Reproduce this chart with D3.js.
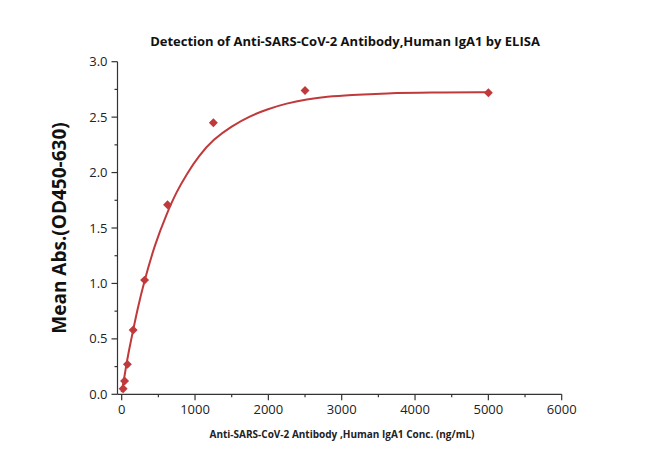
<!DOCTYPE html><html><head><meta charset="utf-8"><script src="https://cdn.jsdelivr.net/npm/d3@7"></script>
<style>body{margin:0;background:#fff}text{font-family:"Open Sans",Calibri,sans-serif}</style></head><body><svg id="c" width="650" height="464"></svg><script>
const concX=[19.53,39.06,78.13,156.25,312.5,625,1250,2500,5000];
const absY=[0.05,0.12,0.27,0.58,1.03,1.71,2.45,2.74,2.72];
const fitX=[0,30,59,100,150,220,300,450,614,750,890,1050,1250,1500,1750,1978,2250,2523,2800,3114,3600,4200,5000];
const fitY=[0.02,0.13,0.25,0.40,0.56,0.78,1.0,1.35,1.63,1.83,1.99,2.15,2.30,2.42,2.51,2.57,2.625,2.66,2.685,2.70,2.715,2.722,2.725];
const xTicks=[0,1000,2000,3000,4000,5000,6000];
const yTicks=[0,0.5,1,1.5,2,2.5,3];
const red="#c0393b";
const svg=d3.select("#c");
const x=d3.scaleLinear().domain([0,6000]).range([121.7,561.7]);
const y=d3.scaleLinear().domain([0,3]).range([394.3,61.7]);
const ax=svg.append("g").attr("transform","translate(0,394.3)");
ax.append("line").attr("x1",117.5).attr("x2",561.7).attr("stroke","#333").attr("stroke-width",1.2);
d3.range(0,6001,500).forEach(v=>ax.append("line").attr("x1",x(v)).attr("x2",x(v)).attr("y2",v%1000?3:6).attr("stroke","#333").attr("stroke-width",1.2));
xTicks.forEach(v=>ax.append("text").attr("x",x(v)).attr("y",20).attr("text-anchor","middle").attr("font-size",13).attr("fill","#222").text(v));
const ay=svg.append("g").attr("transform","translate(117.5,0)");
ay.append("line").attr("y1",y(0)).attr("y2",y(3)).attr("stroke","#333").attr("stroke-width",1.2);
d3.range(0,3.01,0.25).forEach(v=>ay.append("line").attr("y1",y(v)).attr("y2",y(v)).attr("x2",Math.abs(v*2-Math.round(v*2))<1e-6?-6:-3).attr("stroke","#333").attr("stroke-width",1.2));
yTicks.forEach(v=>ay.append("text").attr("x",-10).attr("y",y(v)+4.5).attr("text-anchor","end").attr("font-size",13).attr("fill","#222").text(v.toFixed(1)));
svg.append("path").datum(fitX.map((d,i)=>[d,fitY[i]])).attr("fill","none").attr("stroke",red).attr("stroke-width",2)
 .attr("d",d3.line().x(d=>x(d[0])).y(d=>y(d[1])).curve(d3.curveBasis));
svg.selectAll(".p").data(concX).enter().append("path").attr("transform",(d,i)=>`translate(${x(d)},${y(absY[i])}) rotate(45)`)
 .attr("d",d3.symbol().type(d3.symbolSquare).size(40)).attr("fill",red);
svg.append("text").attr("x",345).attr("y",46).attr("text-anchor","middle").attr("font-size",13).attr("font-weight","bold").attr("fill","#111").text("Detection of Anti-SARS-CoV-2 Antibody,Human IgA1 by ELISA");
svg.append("text").attr("x",342).attr("y",438).attr("text-anchor","middle").attr("font-size",10).attr("font-weight","bold").attr("fill","#222").text("Anti-SARS-CoV-2 Antibody ,Human IgA1 Conc. (ng/mL)");
svg.append("text").attr("transform","translate(66,228) rotate(-90)").attr("text-anchor","middle").attr("font-size",19).attr("font-weight","bold").attr("fill","#111").text("Mean Abs.(OD450-630)");
</script></body></html>
